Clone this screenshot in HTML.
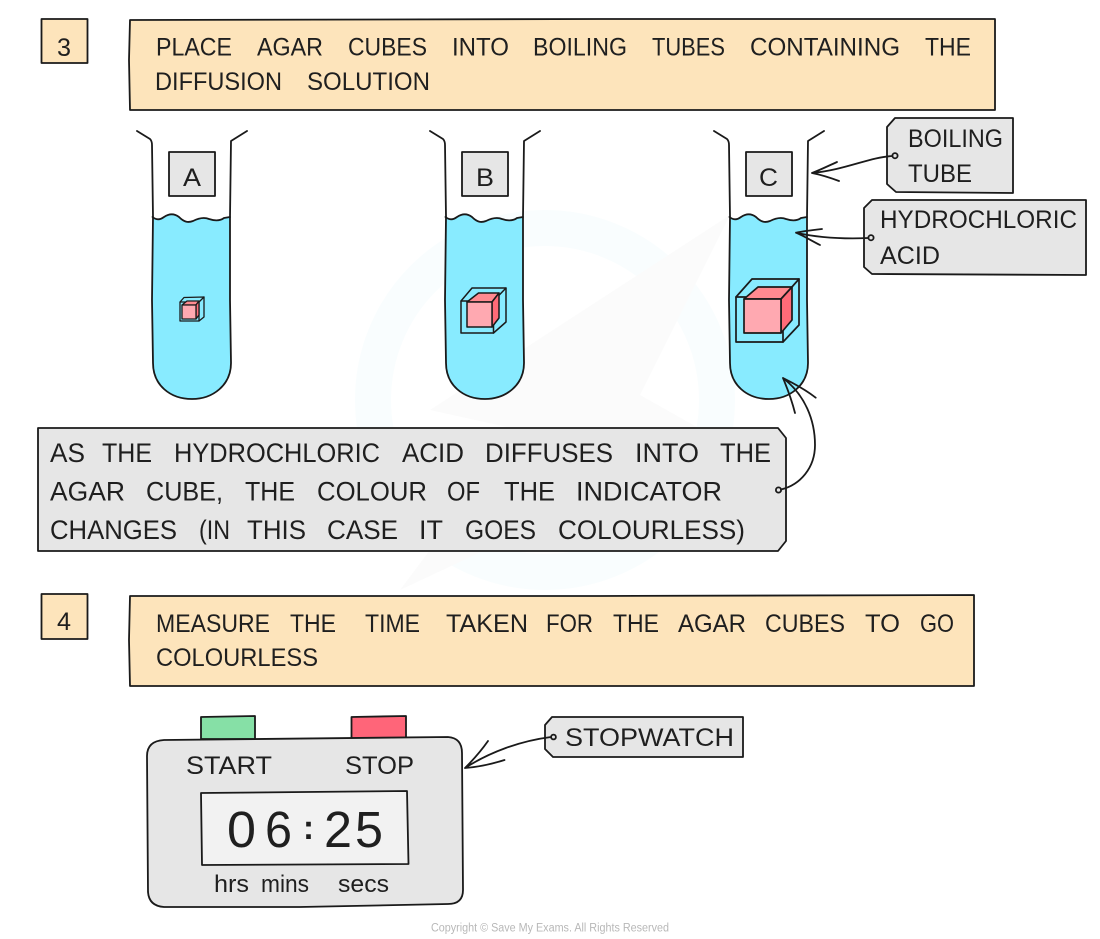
<!DOCTYPE html>
<html>
<head>
<meta charset="utf-8">
<style>
html,body{margin:0;padding:0;background:#fff;}
svg{display:block;}
text{font-family:"Liberation Sans",sans-serif;fill:#1f1f1f;font-size:24px;}
.s{stroke:#1a1a1a;stroke-width:1.8;stroke-linejoin:round;stroke-linecap:round;}
.n{fill:none;}
.o{fill:#fde4bb;}
.g{fill:#e6e6e6;}
.t{font-size:25px;}
.u{font-size:26.5px;}
</style>
</head>
<body>
<svg width="1100" height="939" viewBox="0 0 1100 939" xmlns="http://www.w3.org/2000/svg">
<defs>
<g id="tube">
<path d="M152.5 217C156 220 160 220 164 217C170 213 175 214 179 217C184 222 188 223 193 221C199 218 204 217 209 219C215 221 220 221 224 218L230 217L230 300L231 363C231 385 213 399 192 399C170 399 153 385 153 363L152 300Z" fill="#88ebff"/>
<path class="s n" d="M137 131L150 139Q152 141 152 145L153 217L152 300L153 363C153 385 170 399 192 399C213 399 231 385 231 363L230 300L230 217L231 141L247 131"/>
<path class="s n" d="M152.5 217C156 220 160 220 164 217C170 213 175 214 179 217C184 222 188 223 193 221C199 218 204 217 209 219C215 221 220 221 224 218L230 217"/>
</g>
</defs>

<!-- watermark -->
<g fill="none">
<circle cx="545" cy="400" r="172" stroke="#f9fdfe" stroke-width="36"/>
<path d="M430 410L730 215L640 395L720 440L400 590L520 430Z" fill="#fbfbfb" stroke="none"/>
</g>

<!-- step 3 -->
<rect class="s o" x="41.5" y="19" width="46" height="44"/>
<text x="57" y="56" style="font-size:25px" textLength="14" lengthAdjust="spacingAndGlyphs">3</text>
<path class="s o" d="M130 20L600 19L995 19L995 110L500 110L130 110L129 60Z"/>
<g>
<text class="t" x="156" y="55.5" textLength="76" lengthAdjust="spacingAndGlyphs">PLACE</text>
<text class="t" x="257" y="55.5" textLength="66" lengthAdjust="spacingAndGlyphs">AGAR</text>
<text class="t" x="348" y="55.5" textLength="79" lengthAdjust="spacingAndGlyphs">CUBES</text>
<text class="t" x="452" y="55.5" textLength="57" lengthAdjust="spacingAndGlyphs">INTO</text>
<text class="t" x="533" y="55.5" textLength="94" lengthAdjust="spacingAndGlyphs">BOILING</text>
<text class="t" x="652" y="55.5" textLength="73" lengthAdjust="spacingAndGlyphs">TUBES</text>
<text class="t" x="750" y="55.5" textLength="150" lengthAdjust="spacingAndGlyphs">CONTAINING</text>
<text class="t" x="925" y="55.5" textLength="46" lengthAdjust="spacingAndGlyphs">THE</text>
<text class="t" x="155" y="90" textLength="127" lengthAdjust="spacingAndGlyphs">DIFFUSION</text>
<text class="t" x="307" y="90" textLength="123" lengthAdjust="spacingAndGlyphs">SOLUTION</text>
</g>

<!-- tubes -->
<use href="#tube"/>
<use href="#tube" x="293"/>
<use href="#tube" x="577"/>

<rect class="s g" x="169" y="152" width="46" height="44"/>
<text x="183" y="186" style="font-size:25px" textLength="18" lengthAdjust="spacingAndGlyphs">A</text>
<rect class="s g" x="462" y="152" width="46" height="44"/>
<text x="476" y="186" style="font-size:25px" textLength="18" lengthAdjust="spacingAndGlyphs">B</text>
<rect class="s g" x="746" y="152" width="46" height="44"/>
<text x="759" y="186" style="font-size:25px" textLength="19" lengthAdjust="spacingAndGlyphs">C</text>

<!-- cube A -->
<g class="s" style="stroke-width:1.3">
<path class="n" d="M180 302L184 297.5L204 297L204 317L199 321L180 321Z"/>
<path class="n" d="M180 302L199 302L204 297M199 302L199 321"/>
<path d="M187 301L199 301L196 305L182 305Z" fill="#ff8a90"/>
<path d="M199 301L199 315L196 319L196 305Z" fill="#ff6b78"/>
<rect x="182" y="305" width="14" height="14" fill="#ffa9b1"/>
</g>
<!-- cube B -->
<g class="s" style="stroke-width:1.5">
<path class="n" d="M461 301L472 288L506 288L506 322L493.5 333L461 333Z"/>
<path class="n" d="M461 301L493.5 301L506 288M493.5 301L493.5 333"/>
<path d="M478.5 293L499 293L492 302L467 302Z" fill="#ff8a90"/>
<path d="M499 293L499 318L492 327L492 302Z" fill="#ff6b78"/>
<rect x="467" y="302" width="25" height="25" fill="#ffa9b1"/>
</g>
<!-- cube C -->
<g class="s" style="stroke-width:1.7">
<path class="n" d="M736 297L752 279L799 279L799 325L783 342L736 342Z"/>
<path class="n" d="M736 297L783 297L799 279M783 297L783 342"/>
<path d="M758 287L792 287L781 299L744 299Z" fill="#ff8a90"/>
<path d="M792 287L792 320L781 333L781 299Z" fill="#ff6b78"/>
<rect x="744" y="299" width="37" height="34" fill="#ffa9b1"/>
</g>

<!-- boiling tube tag -->
<path class="s g" d="M895 118L1013 118L1013 193L896 192L887 184L887 127Z"/>
<circle class="s" cx="895" cy="155.7" r="2.6" fill="#e6e6e6"/>
<text class="t" x="908" y="147" textLength="95" lengthAdjust="spacingAndGlyphs">BOILING</text>
<text class="t" x="908" y="182" textLength="64" lengthAdjust="spacingAndGlyphs">TUBE</text>
<path class="s n" d="M892.5 156C870 157 845 170 812 173M837 162C828 166 820 170 812 173C822 175 831 178 839 181"/>

<!-- hydrochloric acid tag -->
<path class="s g" d="M872 200L1086 200L1086 275L872 274L864 267L864 208Z"/>
<circle class="s" cx="871" cy="237.7" r="2.6" fill="#e6e6e6"/>
<text class="t" x="880" y="228" textLength="197" lengthAdjust="spacingAndGlyphs">HYDROCHLORIC</text>
<text class="t" x="880" y="264" textLength="60" lengthAdjust="spacingAndGlyphs">ACID</text>
<path class="s n" d="M868.5 238C845 239 820 238 796 232.7M822 229C813 230 804 231 796 232.7C804 236 812 241 820 245"/>

<!-- grey explanation box -->
<path class="s g" d="M38 428L778 428L786 438L786 541L778 551L38 551Z"/>
<g>
<text class="u" x="50" y="462" textLength="35" lengthAdjust="spacingAndGlyphs">AS</text>
<text class="u" x="102" y="462" textLength="50" lengthAdjust="spacingAndGlyphs">THE</text>
<text class="u" x="174" y="462" textLength="206" lengthAdjust="spacingAndGlyphs">HYDROCHLORIC</text>
<text class="u" x="402" y="462" textLength="62" lengthAdjust="spacingAndGlyphs">ACID</text>
<text class="u" x="485" y="462" textLength="128" lengthAdjust="spacingAndGlyphs">DIFFUSES</text>
<text class="u" x="635" y="462" textLength="64" lengthAdjust="spacingAndGlyphs">INTO</text>
<text class="u" x="720" y="462" textLength="51" lengthAdjust="spacingAndGlyphs">THE</text>
<text class="u" x="50" y="500.5" textLength="75" lengthAdjust="spacingAndGlyphs">AGAR</text>
<text class="u" x="146" y="500.5" textLength="77" lengthAdjust="spacingAndGlyphs">CUBE,</text>
<text class="u" x="245" y="500.5" textLength="50" lengthAdjust="spacingAndGlyphs">THE</text>
<text class="u" x="317" y="500.5" textLength="110" lengthAdjust="spacingAndGlyphs">COLOUR</text>
<text class="u" x="447" y="500.5" textLength="33" lengthAdjust="spacingAndGlyphs">OF</text>
<text class="u" x="504" y="500.5" textLength="51" lengthAdjust="spacingAndGlyphs">THE</text>
<text class="u" x="576" y="500.5" textLength="146" lengthAdjust="spacingAndGlyphs">INDICATOR</text>
<text class="u" x="50" y="539" textLength="127" lengthAdjust="spacingAndGlyphs">CHANGES</text>
<text class="u" x="199" y="539" textLength="31" lengthAdjust="spacingAndGlyphs">(IN</text>
<text class="u" x="247" y="539" textLength="59" lengthAdjust="spacingAndGlyphs">THIS</text>
<text class="u" x="327" y="539" textLength="71" lengthAdjust="spacingAndGlyphs">CASE</text>
<text class="u" x="419" y="539" textLength="24" lengthAdjust="spacingAndGlyphs">IT</text>
<text class="u" x="465" y="539" textLength="71" lengthAdjust="spacingAndGlyphs">GOES</text>
<text class="u" x="558" y="539" textLength="187" lengthAdjust="spacingAndGlyphs">COLOURLESS)</text>
</g>
<circle class="s" cx="778.5" cy="490" r="2.6" fill="#e6e6e6"/>
<path class="s n" d="M781 489.5C800 485 815 468 815 445C815 420 805 395 783 378M795 413C792 401 788 390 783 378C795 384 806 390 815.7 397.7"/>

<!-- step 4 -->
<rect class="s o" x="41.5" y="594" width="46" height="45"/>
<text x="57" y="630" style="font-size:25px" textLength="14" lengthAdjust="spacingAndGlyphs">4</text>
<path class="s o" d="M130 596L600 596L974 595L974 686L500 686L130 686L129 640Z"/>
<g>
<text class="t" x="156" y="632" textLength="114" lengthAdjust="spacingAndGlyphs">MEASURE</text>
<text class="t" x="290" y="632" textLength="46" lengthAdjust="spacingAndGlyphs">THE</text>
<text class="t" x="365" y="632" textLength="55" lengthAdjust="spacingAndGlyphs">TIME</text>
<text class="t" x="446" y="632" textLength="82" lengthAdjust="spacingAndGlyphs">TAKEN</text>
<text class="t" x="546" y="632" textLength="47" lengthAdjust="spacingAndGlyphs">FOR</text>
<text class="t" x="613" y="632" textLength="46" lengthAdjust="spacingAndGlyphs">THE</text>
<text class="t" x="678" y="632" textLength="68" lengthAdjust="spacingAndGlyphs">AGAR</text>
<text class="t" x="765" y="632" textLength="80" lengthAdjust="spacingAndGlyphs">CUBES</text>
<text class="t" x="865" y="632" textLength="35" lengthAdjust="spacingAndGlyphs">TO</text>
<text class="t" x="920" y="632" textLength="34" lengthAdjust="spacingAndGlyphs">GO</text>
<text class="t" x="156" y="666" textLength="162" lengthAdjust="spacingAndGlyphs">COLOURLESS</text>
</g>

<!-- stopwatch -->
<path class="s" d="M201 717L255 716L255 739L201 739Z" fill="#86e0a6"/>
<path class="s" d="M351.5 717L406 716L406 739L351.5 739Z" fill="#ff6579"/>
<path class="s g" d="M164 740L448 737Q462 738 462 753L463 890Q463 904 448 904L300 907L164 907Q149 906 148 892L147 756Q147 741 164 740Z"/>
<text class="t" x="186" y="774" textLength="86" lengthAdjust="spacingAndGlyphs">START</text>
<text class="t" x="345" y="774" textLength="69" lengthAdjust="spacingAndGlyphs">STOP</text>
<path class="s" d="M201 793L407 791L408.5 864L202 865Z" fill="#f2f2f2"/>
<text x="227" y="847" style="font-size:51px" textLength="29" lengthAdjust="spacingAndGlyphs">0</text>
<text x="265" y="847" style="font-size:51px" textLength="27" lengthAdjust="spacingAndGlyphs">6</text>
<text x="303" y="839" style="font-size:34px;font-weight:bold" textLength="11" lengthAdjust="spacingAndGlyphs">:</text>
<text x="324" y="847" style="font-size:51px" textLength="28" lengthAdjust="spacingAndGlyphs">2</text>
<text x="355" y="847" style="font-size:51px" textLength="28" lengthAdjust="spacingAndGlyphs">5</text>
<text x="214" y="892" textLength="35" lengthAdjust="spacingAndGlyphs">hrs</text>
<text x="261" y="892" textLength="48" lengthAdjust="spacingAndGlyphs">mins</text>
<text x="338" y="892" textLength="51" lengthAdjust="spacingAndGlyphs">secs</text>

<path class="s g" d="M552 717L743 717L743 757L553 757L545 749L545 725Z"/>
<circle class="s" cx="553.5" cy="737" r="2.4" fill="#e6e6e6"/>
<text class="t" x="565" y="746" textLength="169" lengthAdjust="spacingAndGlyphs">STOPWATCH</text>
<path class="s n" d="M551 737C520 741 490 752 465 768M488 741C481 751 473 760 465 768C478 767 492 764 504.5 760"/>

<text x="431" y="931.5" style="font-size:11.5px;fill:#b8b8b8" textLength="238" lengthAdjust="spacingAndGlyphs">Copyright © Save My Exams. All Rights Reserved</text>
</svg>
</body>
</html>
